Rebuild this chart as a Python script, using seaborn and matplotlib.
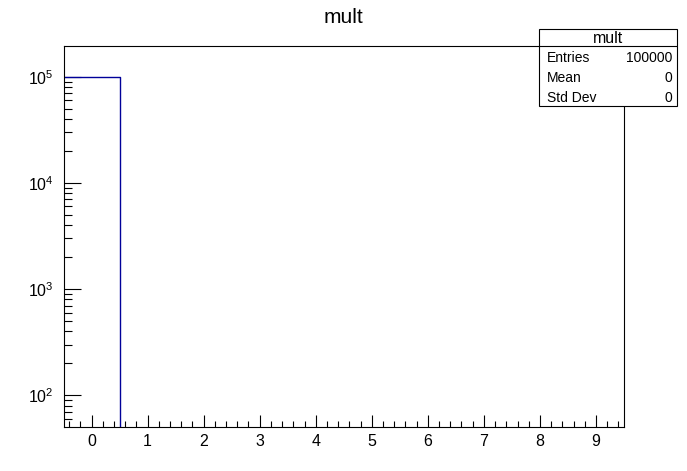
import numpy as np
import pandas as pd
import matplotlib
matplotlib.use("Agg")
import matplotlib.pyplot as plt
import seaborn as sns
from matplotlib.patches import Rectangle
from matplotlib.ticker import MultipleLocator, LogLocator

# histogram data (10 bins, width 1, from -0.5 to 9.5)
bin_centers = [0, 1, 2, 3, 4, 5, 6, 7, 8, 9]
counts = [100000, 0, 0, 0, 0, 0, 0, 0, 0, 0]

hist_name = "mult"
stat_labels = ["Entries", "Mean", "Std Dev"]
stat_values = ["100000", "0", "0"]

df = pd.DataFrame({"mult": bin_centers, "count": counts})

sns.set_style("ticks")
plt.rcParams["font.family"] = ["Liberation Sans", "DejaVu Sans"]
plt.rcParams["text.color"] = "black"
plt.rcParams["xtick.color"] = "black"
plt.rcParams["ytick.color"] = "black"

fig = plt.figure(figsize=(6.87, 4.71), dpi=100)
W, H = 687, 471
ax = fig.add_axes([63.5 / W, 1 - 427 / H, (624 - 63.5) / W, (427 - 46) / H])
ax.set_yscale("log")

sns.histplot(data=df, x="mult", weights="count", discrete=True, element="step",
             fill=False, color="#000099", linewidth=1.0, ax=ax)

ax.set_xlim(-0.5, 9.5)
ax.set_ylim(50.3, 1.945e5)
ax.set_xlabel("")
ax.set_ylabel("")

for s in ax.spines.values():
    s.set_linewidth(0.8)
    s.set_color("black")

ax.xaxis.set_major_locator(MultipleLocator(1))
ax.xaxis.set_minor_locator(MultipleLocator(0.2))
ax.yaxis.set_major_locator(LogLocator(base=10, numticks=10))
ax.yaxis.set_minor_locator(LogLocator(base=10, subs=np.arange(2, 10), numticks=20))

ax.tick_params(axis="x", which="major", direction="in", length=8.5, width=0.8,
               labelsize=11.5, pad=5, colors="black")
ax.tick_params(axis="x", which="minor", direction="in", length=4.3, width=0.8)
ax.tick_params(axis="y", which="major", direction="in", length=12, width=0.8,
               labelsize=11.5, pad=7, colors="black")
ax.tick_params(axis="y", which="minor", direction="in", length=6, width=0.8)

# title centred on the canvas
fig.text(0.5, 1 - 23 / H, hist_name, ha="center", va="baseline", fontsize=15,
         color="black")

# stats box
bx0, bx1, by0, by1 = 539, 677, 29, 106
box = Rectangle((bx0 / W, 1 - by1 / H), (bx1 - bx0) / W, (by1 - by0) / H,
                transform=fig.transFigure, facecolor="white", edgecolor="black",
                linewidth=0.8, zorder=10)
fig.patches.append(box)
fig.add_artist(plt.Line2D([bx0 / W, bx1 / W], [1 - 46 / H, 1 - 46 / H],
                          transform=fig.transFigure, color="black",
                          linewidth=0.8, zorder=11))
fig.text((bx0 + bx1) / 2 / W, 1 - 38.5 / H, hist_name, ha="center", va="center",
         fontsize=11.5, color="black", zorder=12)
for i, (lab, val) in enumerate(zip(stat_labels, stat_values)):
    yy = 1 - (58 + i * 20) / H
    fig.text(547 / W, yy, lab, ha="left", va="center", fontsize=10,
             color="black", zorder=12)
    fig.text(672 / W, yy, val, ha="right", va="center", fontsize=10,
             color="black", zorder=12)

fig.savefig("out.png", dpi=100)
